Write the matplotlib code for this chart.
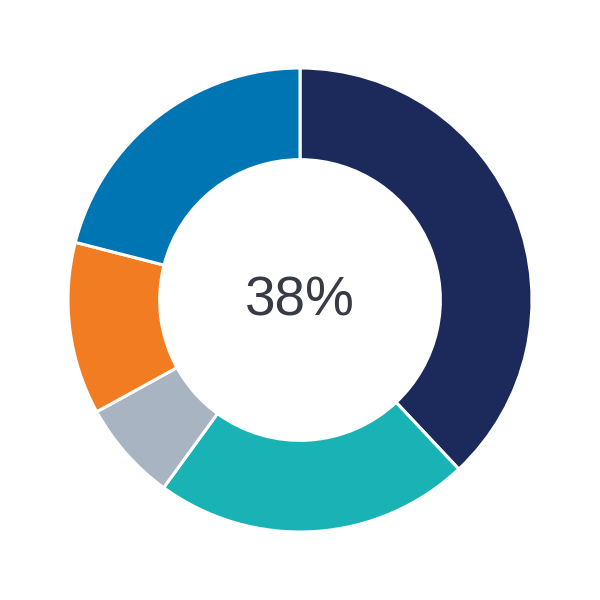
import matplotlib
matplotlib.use("Agg")
import matplotlib.pyplot as plt

# Segment shares, clockwise from 12 o'clock
labels = ["Navy", "Teal", "Gray", "Orange", "Blue"]
shares = [38, 22, 7, 12, 21]
colors = ["#1b2a5a", "#1ab3b5", "#a9b4c2", "#f27c21", "#0075b4"]
center_label = "38%"

fig = plt.figure(figsize=(6, 6), dpi=100)
ax = fig.add_axes([0, 0, 1, 1])

ax.pie(shares, colors=colors, startangle=90, counterclock=False,
       radius=1.0,
       wedgeprops=dict(width=0.395, edgecolor="white", linewidth=2.2))

ax.text(0, -0.005, center_label, ha="center", va="center",
        fontsize=39.5, color="#363b45", family="Liberation Sans")

lim = 300 / 232
ax.set_xlim(-lim, lim)
ax.set_ylim(-lim, lim)
ax.set_aspect("equal")
ax.axis("off")

fig.savefig("out.png", dpi=100, facecolor="white")
